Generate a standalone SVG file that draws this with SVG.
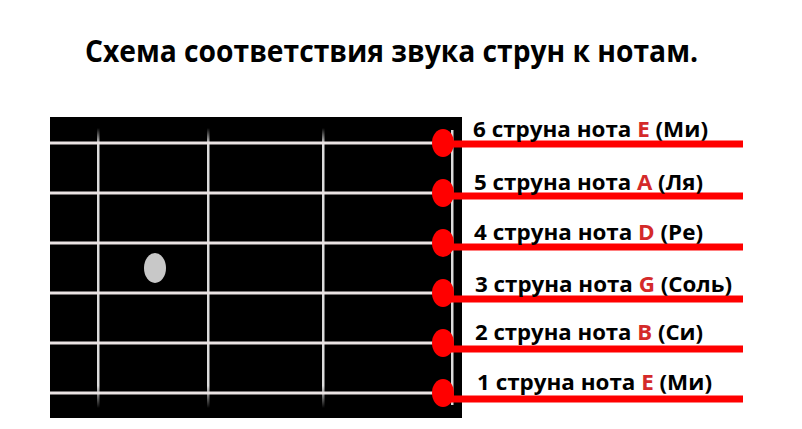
<svg xmlns="http://www.w3.org/2000/svg" width="802" height="429" viewBox="0 0 802 429">
  <defs>
    <linearGradient id="fretGrad" x1="0" y1="0" x2="0" y2="1">
      <stop offset="0" stop-color="#dcdcdc" stop-opacity="0"/>
      <stop offset="0.06" stop-color="#dcdcdc" stop-opacity="1"/>
      <stop offset="0.92" stop-color="#dcdcdc" stop-opacity="1"/>
      <stop offset="1" stop-color="#dcdcdc" stop-opacity="0"/>
    </linearGradient>
    <style>
      .title { font-family: "Open Sans", "Liberation Sans", sans-serif; font-weight: bold; font-size: 30px; fill: #000; }
      .lbl { font-family: "Open Sans", "Liberation Sans", sans-serif; font-weight: bold; font-size: 21px; fill: #000; }
      .note { fill: #d42a2a; }
      .string { stroke: #ebe4e4; stroke-width: 3; }
      .fret { fill: url(#fretGrad); }
      .peg { fill: #ff0000; }
      .lead { stroke: #ff0000; stroke-width: 7; }
    </style>
  </defs>
  <rect width="802" height="429" fill="#ffffff"/>
  <text class="title" x="85" y="62" textLength="613" lengthAdjust="spacingAndGlyphs">Схема соответствия звука струн к нотам.</text>

  <g id="fretboard">
    <rect x="50" y="117" width="412" height="301" fill="#000000"/>
    <rect class="fret" x="97" y="128" width="2.5" height="280"/>
    <rect class="fret" x="207" y="128" width="2.5" height="280"/>
    <rect class="fret" x="322" y="128" width="2.5" height="280"/>
    <rect x="451" y="130" width="2.5" height="275" fill="#dcdcdc"/>
    <line class="string" x1="50" y1="143" x2="440" y2="143"/>
    <line class="string" x1="50" y1="193" x2="440" y2="193"/>
    <line class="string" x1="50" y1="243" x2="440" y2="243"/>
    <line class="string" x1="50" y1="293" x2="440" y2="293"/>
    <line class="string" x1="50" y1="343" x2="440" y2="343"/>
    <line class="string" x1="50" y1="393" x2="440" y2="393"/>
    <ellipse cx="155" cy="268" rx="11" ry="15" fill="#c8c8c8"/>
  </g>

  <g id="connectors">
    <line class="lead" x1="443" y1="144" x2="743" y2="144"/>
    <line class="lead" x1="443" y1="196" x2="743" y2="196"/>
    <line class="lead" x1="443" y1="247" x2="743" y2="247"/>
    <line class="lead" x1="443" y1="299" x2="743" y2="299"/>
    <line class="lead" x1="443" y1="349" x2="743" y2="349"/>
    <line class="lead" x1="443" y1="399" x2="743" y2="399"/>
  </g>

  <g id="string6">
    <ellipse class="peg" cx="443" cy="143" rx="11" ry="14"/>
    <text class="lbl" x="473" y="137" textLength="235" lengthAdjust="spacingAndGlyphs">6 струна нота <tspan class="note">E</tspan> (Ми)</text>
  </g>
  <g id="string5">
    <ellipse class="peg" cx="443" cy="193" rx="11" ry="14"/>
    <text class="lbl" x="474" y="190" textLength="229" lengthAdjust="spacingAndGlyphs">5 струна нота <tspan class="note">A</tspan> (Ля)</text>
  </g>
  <g id="string4">
    <ellipse class="peg" cx="443" cy="243" rx="11" ry="14"/>
    <text class="lbl" x="474" y="240" textLength="229" lengthAdjust="spacingAndGlyphs">4 струна нота <tspan class="note">D</tspan> (Ре)</text>
  </g>
  <g id="string3">
    <ellipse class="peg" cx="443" cy="293" rx="11" ry="14"/>
    <text class="lbl" x="475" y="292" textLength="257" lengthAdjust="spacingAndGlyphs">3 струна нота <tspan class="note">G</tspan> (Соль)</text>
  </g>
  <g id="string2">
    <ellipse class="peg" cx="443" cy="343" rx="11" ry="14"/>
    <text class="lbl" x="475" y="340" textLength="228" lengthAdjust="spacingAndGlyphs">2 струна нота <tspan class="note">B</tspan> (Си)</text>
  </g>
  <g id="string1">
    <ellipse class="peg" cx="443" cy="393" rx="11" ry="14"/>
    <text class="lbl" x="477" y="390" textLength="235" lengthAdjust="spacingAndGlyphs">1 струна нота <tspan class="note">E</tspan> (Ми)</text>
  </g>
</svg>
